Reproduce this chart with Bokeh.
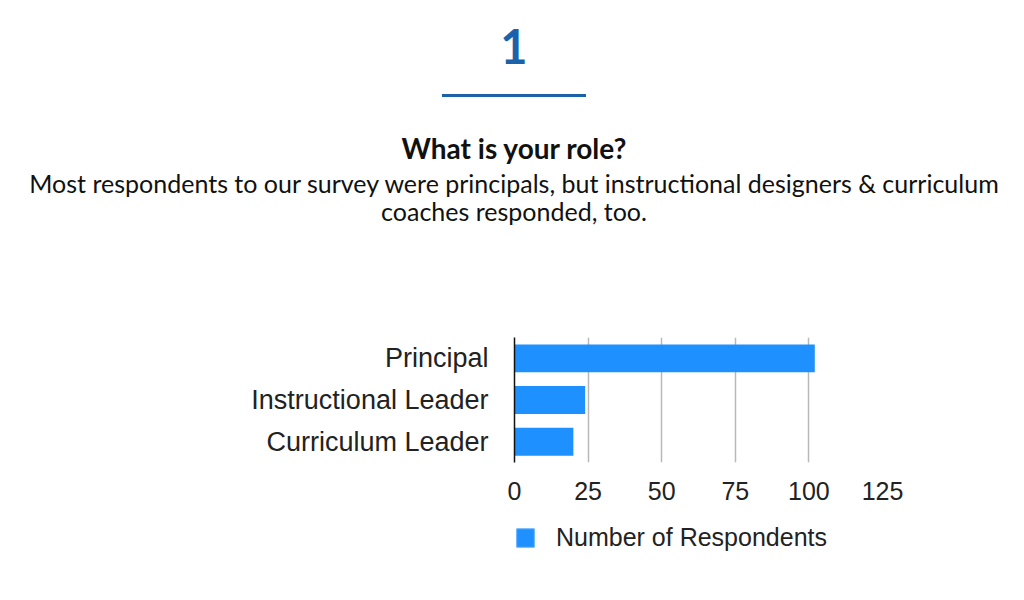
from bokeh.plotting import figure
from bokeh.layouts import column
from bokeh.models import FixedTicker, Legend, LegendItem, Range1d, Div
from bokeh.embed import file_html
from bokeh.resources import INLINE

# data
roles = ["Principal", "Instructional Leader", "Curriculum Leader"]
respondents = [102, 24, 20]
x_ticks = [0, 25, 50, 75, 100, 125]
series_name = "Number of Respondents"

number = "1"
question = "What is your role?"
sub_lines = ["Most respondents to our survey were principals, but instructional designers & curriculum",
             "coaches responded, too."]

BLUE = "#1b62ab"
BAR = "#1e90ff"

# header
base = "position:absolute;left:2px;width:1024px;text-align:center;font-family:Lato;white-space:nowrap;"
header_html = (
    f'<div style="position:relative;width:1024px;height:248px;">'
    f'<div style="{base}top:16px;line-height:60px;font-size:47px;font-weight:bold;color:{BLUE};">{number}</div>'
    f'<div style="position:absolute;left:442px;top:94px;width:144px;height:3px;background:{BLUE};"></div>'
    f'<div style="{base}top:131px;line-height:34px;font-size:28px;font-weight:bold;color:#111;">{question}</div>'
    f'<div style="{base}top:169px;line-height:28px;font-size:25px;color:#111;">'
    f'{sub_lines[0].replace("&", "&amp;")}<br>{sub_lines[1]}</div>'
    f'</div>'
)
header = Div(text=header_html, width=1024, height=248, margin=0)

# bar chart
p = figure(width=1024, height=270, y_range=list(reversed(roles)), x_range=Range1d(0, 125),
           toolbar_location=None, output_backend="svg", frame_width=368, frame_height=125,
           min_border_left=514, min_border_right=142, min_border_top=89, min_border_bottom=56)
p.outline_line_color = None

p.hbar(y=roles, right=respondents, height=0.67, left=0, fill_color=BAR, line_color=None)

p.ygrid.visible = False
p.xgrid.ticker = FixedTicker(ticks=x_ticks)
p.xgrid.grid_line_color = "#b8b8b8"
p.xgrid.grid_line_width = 1.5

p.xaxis.ticker = FixedTicker(ticks=x_ticks)
p.xaxis.axis_line_color = None
p.xaxis.major_tick_line_color = None
p.xaxis.minor_tick_line_color = None
p.xaxis.major_label_text_font = "Liberation Sans"
p.xaxis.major_label_text_font_size = "25px"
p.xaxis.major_label_text_color = "#222222"
p.xaxis.major_label_standoff = 13

p.yaxis.axis_line_color = "#111111"
p.yaxis.axis_line_width = 1.5
p.yaxis.major_tick_line_color = None
p.yaxis.minor_tick_line_color = None
p.yaxis.major_label_text_font = "Liberation Sans"
p.yaxis.major_label_text_font_size = "27px"
p.yaxis.major_label_text_color = "#222222"
p.yaxis.major_label_standoff = 20

# legend strip below the chart (hidden copy of the bars feeds the legend key)
lg = figure(width=1024, height=42, x_range=Range1d(0, 125), y_range=list(reversed(roles)),
            toolbar_location=None, output_backend="svg", frame_width=368, frame_height=42,
            min_border_left=514, min_border_right=142, min_border_top=0, min_border_bottom=0,
            x_axis_location=None, y_axis_location=None)
lg.grid.visible = False
lg.outline_line_color = None
key = lg.hbar(y=roles, right=respondents, height=0.67, left=0, fill_color=BAR,
              line_color="#5aaeff", line_width=1, visible=False)

legend = Legend(items=[LegendItem(label=series_name, renderers=[key])], location=(0, 8),
                orientation="horizontal", border_line_color=None, background_fill_alpha=0,
                glyph_width=22, glyph_height=23, label_standoff=20, padding=0, margin=0,
                inactive_fill_alpha=0, click_policy="none",
                label_text_font="Liberation Sans", label_text_font_size="25px",
                label_text_color="#222222")
lg.add_layout(legend, "center")

layout = column(header, p, lg, spacing=0)
open("out.html", "w").write(file_html(layout, INLINE))
